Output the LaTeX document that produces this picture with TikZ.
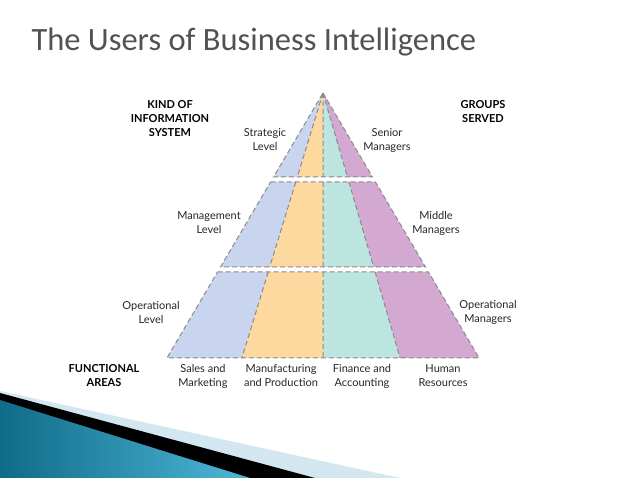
\documentclass[tikz,border=0pt]{standalone}
\usepackage{fontspec}
\setmainfont{Carlito}
\newfontfamily\labfont{Lato}
\definecolor{cb}{HTML}{C9D5EE}
\definecolor{co}{HTML}{FDD9A0}
\definecolor{ct}{HTML}{BDE5E0}
\definecolor{cp}{HTML}{D3A9D2}
\definecolor{dg}{HTML}{8A8A8A}
\definecolor{tealA}{HTML}{0F6C88}
\definecolor{tealB}{HTML}{4FB6D8}
\definecolor{lightb}{HTML}{D3E7F0}
\begin{document}
\begin{tikzpicture}[x=1pt,y=-1pt,
  band/.style={draw=dg,dashed,line width=1pt,dash pattern=on 5pt off 3pt},
  lab/.style={font=\labfont\fontsize{11}{14}\selectfont,align=center,text=black!85},
  hd/.style={font=\labfont\bfseries\fontsize{11}{14}\selectfont,align=center}]
\useasboundingbox (0,0) rectangle (638,478);
\fill[white] (0,0) rectangle (638,478);
\node[anchor=west,font=\fontsize{32.5}{38}\selectfont,text=black!68] (title) at (28,42) {The Users of Business Intelligence};
% pyramid
\foreach \yt/\yb in {93/177,182/267,272/358}{
  \pgfmathsetmacro{\aL}{323-0.589*(\yt-93)}\pgfmathsetmacro{\bL}{323-0.589*(\yb-93)}
  \pgfmathsetmacro{\aR}{323+0.589*(\yt-93)}\pgfmathsetmacro{\bR}{323+0.589*(\yb-93)}
  \pgfmathsetmacro{\al}{323-0.306*(\yt-93)}\pgfmathsetmacro{\bl}{323-0.306*(\yb-93)}
  \pgfmathsetmacro{\ar}{323+0.291*(\yt-93)}\pgfmathsetmacro{\br}{323+0.291*(\yb-93)}
  \fill[cb] (\aL,\yt) -- (\al,\yt) -- (\bl,\yb) -- (\bL,\yb) -- cycle;
  \fill[co] (\al,\yt) -- (323,\yt) -- (323,\yb) -- (\bl,\yb) -- cycle;
  \fill[ct] (323,\yt) -- (\ar,\yt) -- (\br,\yb) -- (323,\yb) -- cycle;
  \fill[cp] (\ar,\yt) -- (\aR,\yt) -- (\bR,\yb) -- (\br,\yb) -- cycle;
  \draw[band] (\aL,\yt) -- (\aR,\yt) -- (\bR,\yb) -- (\bL,\yb) -- cycle;
  \draw[band] (\al,\yt) -- (\bl,\yb) (323,\yt) -- (323,\yb) (\ar,\yt) -- (\br,\yb);
}
% labels
\node[hd] (kind) at (170,119) {KIND OF\\INFORMATION\\SYSTEM};
\node[hd] (grp) at (483,112) {GROUPS\\SERVED};
\node[lab] (s1) at (265,140) {Strategic\\Level};
\node[lab] (s2) at (387,140) {Senior\\Managers};
\node[lab] (m1) at (209,223) {Management\\Level};
\node[lab] (m2) at (436,223) {Middle\\Managers};
\node[lab] (o1) at (151,312) {Operational\\Level};
\node[lab] (o2) at (488,312) {Operational\\Managers};
\node[hd] (fa) at (104,376) {FUNCTIONAL\\AREAS};
\node[lab] (f1) at (203,376) {Sales and\\Marketing};
\node[lab] (f2) at (281,376) {Manufacturing\\and Production};
\node[lab] (f3) at (362,376) {Finance and\\Accounting};
\node[lab] (f4) at (443,376) {Human\\Resources};
% corner decoration
\fill[lightb] (0,391) -- (400,478) -- (0,478) -- cycle;
\fill[black] (0,393) -- (315,478) -- (0,478) -- cycle;
\shade[left color=tealA, right color=tealB] (0,400) -- (250,478) -- (0,478) -- cycle;
\end{tikzpicture}
\end{document}
